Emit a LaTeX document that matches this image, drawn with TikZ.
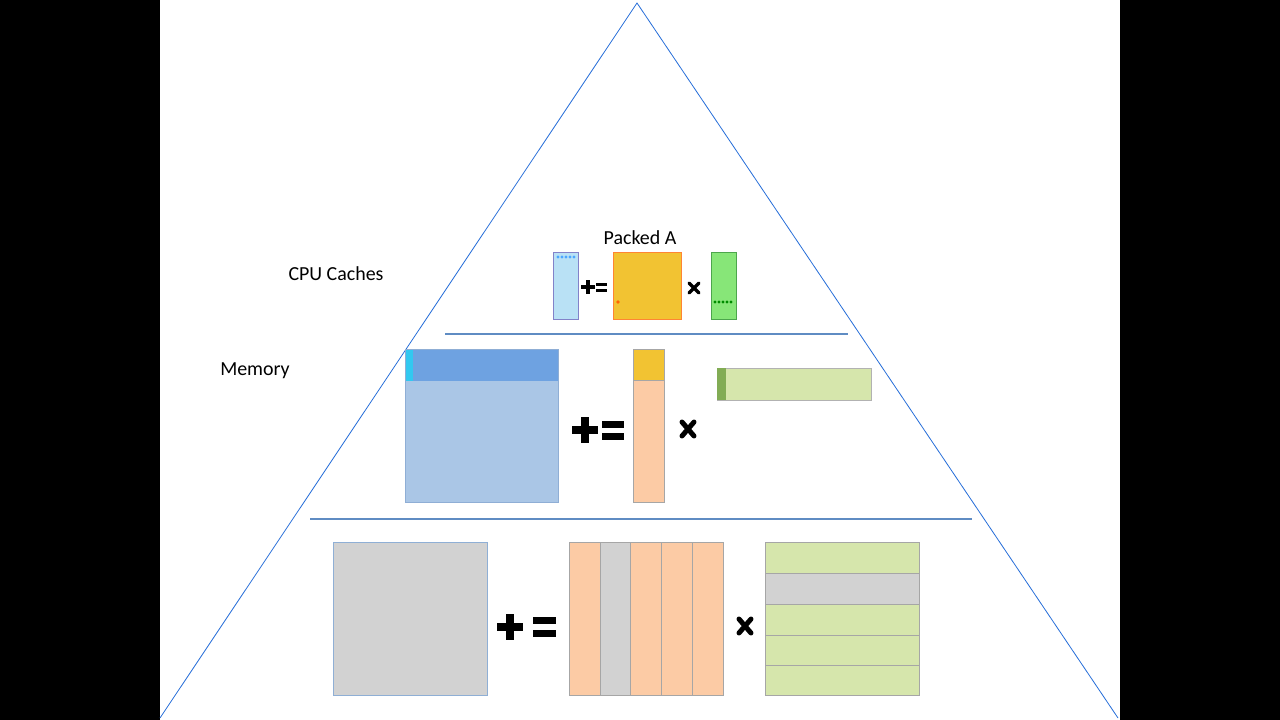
\documentclass[tikz,border=0pt]{standalone}
\usepackage{fontspec}
\setmainfont{Carlito}
\begin{document}
\begin{tikzpicture}[x=1bp,y=-1bp,
  edge/.style={draw=blue!30!gray!80, line width=0.8bp},
  tri/.style={draw=blue!60!cyan!70!gray, line width=0.8bp},
  sym/.style={line width=#1, black},
  lbl/.style={font=\fontsize{20}{24}\selectfont}]
\definecolor{lblue}{RGB}{185,225,245}
\definecolor{gold}{RGB}{242,195,50}
\definecolor{lgreen}{RGB}{135,230,120}
\definecolor{mblue}{RGB}{170,198,230}
\definecolor{dblue}{RGB}{110,162,225}
\definecolor{cyanb}{RGB}{50,200,240}
\definecolor{peach}{RGB}{252,203,165}
\definecolor{pgreen}{RGB}{214,230,172}
\definecolor{dgreen}{RGB}{130,172,85}
\definecolor{gry}{RGB}{210,210,210}
\definecolor{lineb}{RGB}{95,140,195}
\fill[black] (0,0) rectangle (1280,720);
\fill[white] (160,0) rectangle (1120,720);
\useasboundingbox (0,0) rectangle (1280,720);
% triangle and dividers
\draw[tri] (160,718) -- (637,3) -- (1118,718);
\draw[lineb, line width=1.5bp] (445,334) -- (848,334);
\draw[lineb, line width=1.5bp] (310,519) -- (972,519);
% labels
\node[lbl] (cpu) at (336,274) {CPU Caches};
\node[lbl] (mem) at (255,371) {Memory};
\node[lbl] (pa) at (640,238) {Packed A};
% top row
\filldraw[fill=lblue, draw=blue!40!gray!70] (553,252) rectangle (578,319);
\foreach \x in {558,562,566,570,574} \fill[blue!50!cyan!70] (\x,257) circle (1.6);
\draw[sym=4bp] (581,287) -- (595,287) (588,280) -- (588,294);
\draw[sym=3bp] (596,284) -- (607,284) (596,290) -- (607,290);
\filldraw[fill=gold, draw=orange!80!red!80] (613,252) rectangle (681,319);
\fill[orange!80!red] (618,302) circle (1.8);
\draw[sym=3.5bp, line cap=round] (689,283) -- (699,293) (689,293) -- (699,283);
\filldraw[fill=lgreen, draw=green!50!black!70] (711,252) rectangle (736,319);
\foreach \x in {715,719,723,727,731} \fill[green!55!black] (\x,302) circle (1.6);
% middle row
\filldraw[fill=mblue, draw=lineb!70] (405,349) rectangle (558,502);
\fill[dblue] (405,349) rectangle (558,381);
\fill[cyanb] (405,349) rectangle (413,381);
\draw[lineb!70] (405,349) rectangle (558,502);
\draw[sym=8bp] (572,430) -- (598,430) (585,417) -- (585,443);
\draw[sym=7bp] (602,424) -- (624,424) (602,436) -- (624,436);
\filldraw[fill=peach, draw=gray!70] (633,349) rectangle (664,502);
\filldraw[fill=gold, draw=gray!70] (633,349) rectangle (664,380);
\draw[sym=5bp, line cap=round] (682,422) -- (694,436) (682,436) -- (694,422);
\filldraw[fill=pgreen, draw=gray!60] (717,368) rectangle (871,400);
\fill[dgreen] (717,368) rectangle (726,400);
% bottom row
\filldraw[fill=gry, draw=lineb!70] (333,542) rectangle (487,695);
\draw[sym=8bp] (497,627) -- (523,627) (510,614) -- (510,640);
\draw[sym=7bp] (533,620) -- (556,620) (533,633) -- (556,633);
\filldraw[fill=peach, draw=gray!70] (569,542) rectangle (600,695);
\filldraw[fill=gry, draw=gray!70] (600,542) rectangle (630,695);
\filldraw[fill=peach, draw=gray!70] (630,542) rectangle (661,695);
\filldraw[fill=peach, draw=gray!70] (661,542) rectangle (692,695);
\filldraw[fill=peach, draw=gray!70] (692,542) rectangle (723,695);
\draw[sym=5bp, line cap=round] (739,619) -- (751,633) (739,633) -- (751,619);
\filldraw[fill=pgreen, draw=gray!70] (765,542) rectangle (919,573);
\filldraw[fill=gry, draw=gray!70] (765,573) rectangle (919,604);
\filldraw[fill=pgreen, draw=gray!70] (765,604) rectangle (919,635);
\filldraw[fill=pgreen, draw=gray!70] (765,635) rectangle (919,665);
\filldraw[fill=pgreen, draw=gray!70] (765,665) rectangle (919,695);
\end{tikzpicture}
\end{document}
